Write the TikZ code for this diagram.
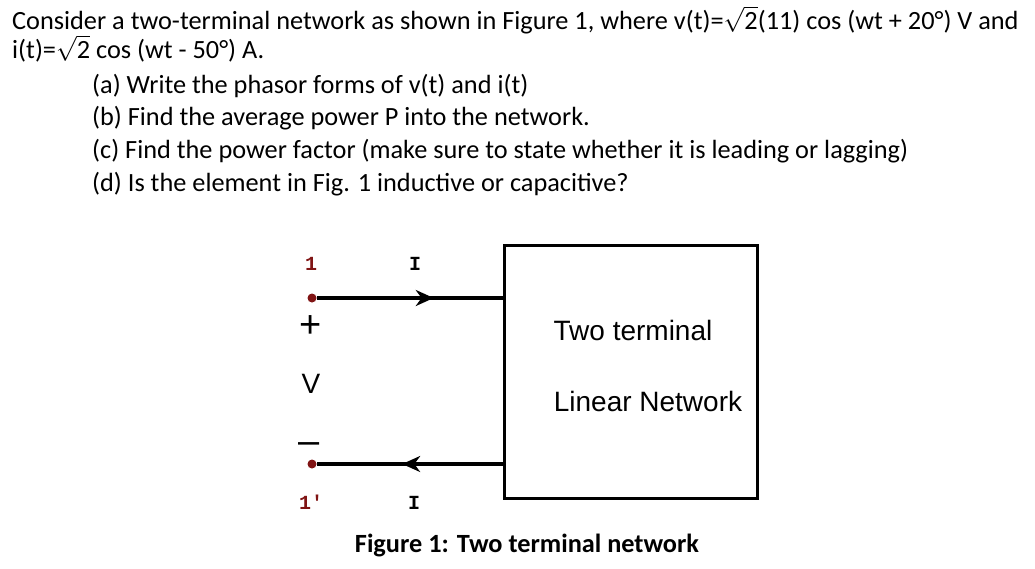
\documentclass[tikz,border=0pt]{standalone}
\usepackage{fontspec}
\setmainfont{Carlito}
\newfontfamily\arialf{Liberation Sans}
\newfontfamily\monof{Liberation Mono}
\usetikzlibrary{arrows.meta,decorations.markings}
\definecolor{termred}{RGB}{128,20,20}
\begin{document}
\begin{tikzpicture}[x=1pt,y=-1pt,
    txt/.style={anchor=base west, inner sep=0pt, font=\fontsize{26.3}{30}\selectfont},
    lbl/.style={inner sep=0pt, font=\arialf\fontsize{28}{32}\selectfont},
    term/.style={inner sep=0pt, font=\monof\bfseries\fontsize{20}{22}\selectfont},
    dot/.style={circle, fill=termred, inner sep=0pt, minimum size=9pt},
    wire/.style={line width=3.5pt},
    midarrow/.style={decoration={markings, mark=at position #1 with {\arrow{Stealth[length=18pt,width=16pt]}}}, postaction={decorate}}
]
\useasboundingbox (0,0) rectangle (1035,568);
% question text
\node[txt] (q1) at (12,29) {Consider a two-terminal network as shown in Figure 1, where v(t)=$\sqrt{\mbox{2}}$(11) cos (wt + 20°) V and};
\node[txt] (q2) at (12,58) {i(t)=$\sqrt{\mbox{2}}$ cos (wt - 50°) A.};
\node[txt] (qa) at (92,93) {(a) Write the phasor forms of v(t) and i(t)};
\node[txt] (qb) at (92,125) {(b) Find the average power P into the network.};
\node[txt] (qc) at (92,158) {(c) Find the power factor (make sure to state whether it is leading or lagging)};
\node[txt] (qd) at (92,191) {(d) Is the element in Fig. 1 inductive or capacitive?};
% network box
\node[draw, line width=3pt, minimum width=253pt, minimum height=253pt, inner sep=0pt] (box) at (630.5,371.5) {};
\node[lbl] (l1) at (633,330) {Two terminal};
\node[lbl] (l2) at (648,401) {Linear Network};
% terminals
\node[dot] (t1) at (312,298) {};
\node[dot] (t2) at (312,464) {};
\coordinate (b1) at (box.west |- t1);
\coordinate (b2) at (box.west |- t2);
\draw[wire, midarrow=0.63] (t1) -- (b1);
\draw[wire, midarrow=0.54] (b2) -- (t2);
\node[term, text=termred] (n1) at (311,264) {1};
\node[term, text=termred] (n2) at (311,502) {1'};
\node[term] (i1) at (415,264) {I};
\node[term] (i2) at (414,503) {I};
\node[inner sep=0pt, font=\arialf\fontsize{38}{40}\selectfont] (plus) at (311,327) {+};
\node[lbl] (v) at (311,384) {V};
\node[inner sep=0pt, font=\arialf\fontsize{38}{40}\selectfont] (minus) at (309,448) {\textendash};
% caption
\node[inner sep=0pt, font=\bfseries\fontsize{26.3}{30}\selectfont] (cap) at (527,545) {Figure 1: Two terminal network};
\end{tikzpicture}
\end{document}
